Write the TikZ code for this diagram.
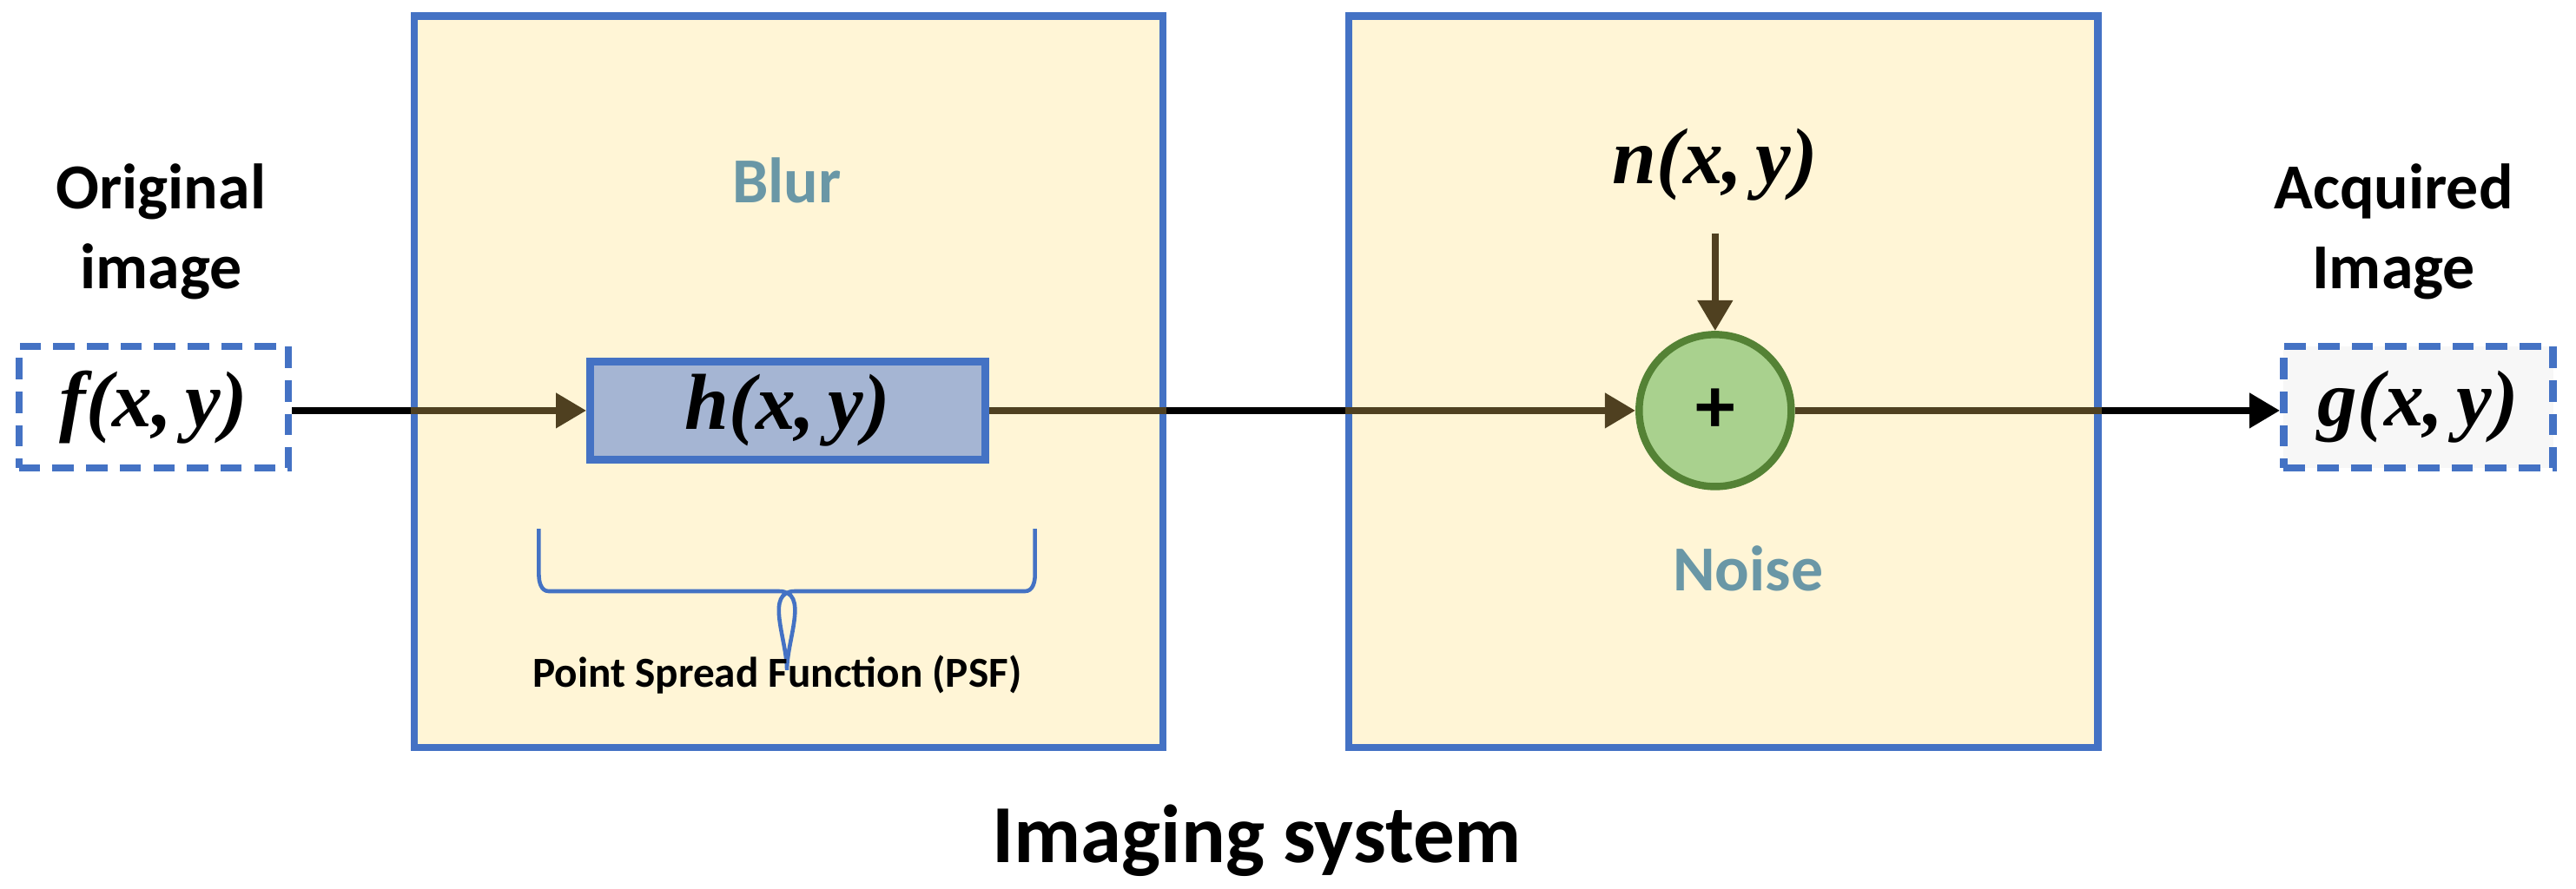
\documentclass[tikz,border=0pt]{standalone}
\usepackage{fontspec}
\setmainfont{Carlito}
\newfontfamily\mathserif{Liberation Serif}
\usetikzlibrary{positioning,arrows.meta}
\definecolor{boxblue}{HTML}{4472C4}
\definecolor{stage}{HTML}{FFF5D6}
\definecolor{hfill}{HTML}{A5B5D3}
\definecolor{sumfill}{HTML}{A9D18E}
\definecolor{sumdraw}{HTML}{548235}
\definecolor{wire}{HTML}{4F4020}
\definecolor{tag}{HTML}{6A97A6}
\newcommand{\fxy}[1]{{\mathserif\bfseries\itshape #1(x,\,y)}}
\tikzstyle{stagebox}=[rectangle,draw=boxblue,line width=2.4pt,fill=stage,minimum width=8.62cm,minimum height=8.42cm]
\tikzstyle{signal}=[rectangle,draw=boxblue,line width=2.4pt,dash pattern=on 7pt off 4pt,minimum width=3.1cm,minimum height=1.4cm,font=\fontsize{26}{26}\selectfont]
\tikzstyle{caption}=[align=center,font=\fontsize{21}{26}\selectfont\bfseries]
\tikzstyle{stagelabel}=[text=tag,font=\fontsize{21}{26}\selectfont\bfseries]

\begin{document}
\begin{tikzpicture}[x=0.01891cm,y=-0.01891cm]
            \useasboundingbox (0,0) rectangle (1568,541);

            % stages
            \node[stagebox] (blur) at (480,232.5) {};
            \node[stagebox] (noise) at (1049,232.5) {};
            \node[stagelabel] (blurlab) at (479,110) {Blur};
            \node[stagelabel] (noiselab) at (1064,346) {Noise};

            % signals
            \node[signal] (f) at (93.5,248) {\fxy{f}};
            \node[signal,fill=black!3] (g) at (1472,248) {\fxy{g}};
            \node[caption] at (98,141) {Original\\image};
            \node[caption] at (1457,141) {Acquired\\Image};

            % blur and noise blocks
            \node[rectangle,draw=boxblue,line width=2.4pt,fill=hfill,minimum width=4.55cm,minimum height=1.13cm,font=\fontsize{26}{26}\selectfont] (h) at (479.5,250) {\fxy{h}};
            \node[circle,draw=sumdraw,line width=2.4pt,fill=sumfill,minimum size=1.75cm,font=\fontsize{26}{26}\selectfont\bfseries] (sum) at (1044,250) {+};
            \node[font=\fontsize{26}{26}\selectfont] (n) at (1044,100) {\fxy{n}};
            \coordinate (ntail) at (1044,142);

            % connections
            \coordinate (fout) at (f.east |- h);
            \coordinate (gin) at (g.west |- h);
            \coordinate (bin) at (blur.west |- h);
            \coordinate (bout) at (blur.east |- h);
            \coordinate (nin) at (noise.west |- h);
            \coordinate (nout) at (noise.east |- h);
            \draw[line width=2.4pt] (fout) -- (bin);
            \draw[wire,line width=2.4pt,-{Triangle[length=10pt,width=11pt]}] (bin) -- (h);
            \draw[wire,line width=2.4pt] (h) -- (bout);
            \draw[line width=2.4pt] (bout) -- (nin);
            \draw[wire,line width=2.4pt,-{Triangle[length=10pt,width=11pt]}] (nin) -- (sum);
            \draw[wire,line width=2.4pt] (sum) -- (nout);
            \draw[line width=2.4pt,-{Triangle[length=10pt,width=11pt]}] (nout) -- (gin);
            \draw[wire,line width=2.4pt,-{Triangle[length=10pt,width=11pt]}] (ntail) -- (sum);

            % PSF brace
            \coordinate (bl) at (328,322);
            \coordinate (br) at (630,322);
            \coordinate (btip) at (479,408);
            \draw[boxblue,line width=1.3pt] (bl) -- ++(0,28) to[out=-90,in=180] ++(6,10) -- (474,360)
              to[out=0,in=90] (btip) to[out=90,in=180] (484,360) -- (624,360) to[out=0,in=-90] ++(6,-10) -- (br);
            \node[font=\fontsize{14}{17}\selectfont\bfseries] (psf) at (473,411) {Point Spread Function (PSF)};

            \node[font=\fontsize{27}{32}\selectfont\bfseries] (sys) at (765,512) {Imaging system};
        \end{tikzpicture}
\end{document}
